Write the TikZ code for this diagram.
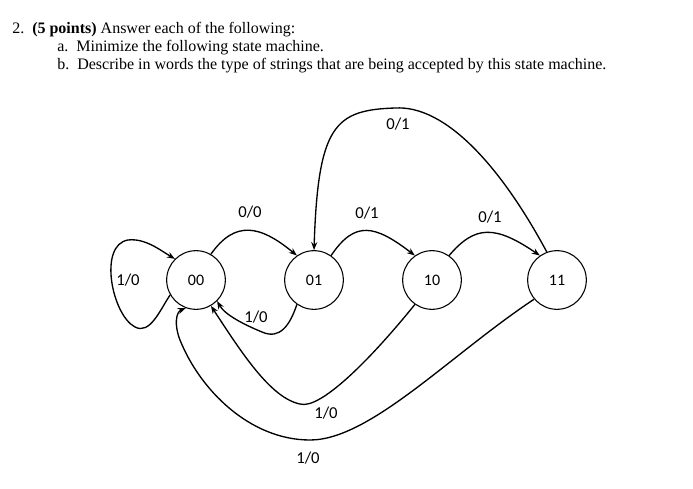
\documentclass[tikz,border=0pt]{standalone}
\usepackage{fontspec}
\setmainfont{Liberation Serif}
\newfontfamily\lab{Carlito}
\usetikzlibrary{arrows.meta}
\begin{document}
\begin{tikzpicture}[x=0.75pt,y=-0.75pt,
  st/.style={draw,circle,minimum size=44pt,inner sep=0pt,line width=0.8pt,font=\lab\fontsize{12}{14}\selectfont},
  lb/.style={font=\lab\fontsize{12.5}{14}\selectfont},
  tx/.style={anchor=base west,font=\fontsize{12}{14}\selectfont,inner sep=0pt},
  ed/.style={line width=1pt,-{Stealth[length=6pt,width=4.5pt]}}]
\useasboundingbox (0,0) rectangle (693,489);
\node[tx] (t1) at (12,33) {2.\enspace\textbf{(5 points)} Answer each of the following:};
\node[tx] (t2) at (57,51) {a.\enspace Minimize the following state machine.};
\node[tx] (t3) at (57,69) {b.\enspace Describe in words the type of strings that are being accepted by this state machine.};
\node[st] (a) at (196,280) {00};
\node[st] (b) at (314,280) {01};
\node[st] (c) at (432,280) {10};
\node[st] (d) at (557,280) {11};
\draw[ed] (a.210) .. controls (160,310) and (150,335) .. (135,327) .. controls (112,315) and (98,245) .. (128,240) .. controls (145,238) and (160,250) .. (a.135);
\node[lb] (l1) at (128,280) {1/0};
\draw[ed] (a.60) .. controls (235,220) and (260,225) .. (b.125);
\node[lb] (l2) at (250,212) {0/0};
\draw[ed] (b.235) .. controls (290,325) and (280,340) .. (262,332) .. controls (245,325) and (225,315) .. (a.-45);
\node[lb] (l3) at (256,317) {1/0};
\draw[ed] (b.55) .. controls (355,220) and (375,225) .. (c.125);
\node[lb] (l4) at (367,213) {0/1};
\draw[ed] (c.55) .. controls (475,225) and (495,225) .. (d.125);
\node[lb] (l5) at (490,217) {0/1};
\draw[ed] (d.110) .. controls (500,165) and (445,105) .. (395,108) .. controls (335,110) and (318,125) .. (b.north);
\node[lb] (l6) at (398,124) {0/1};
\draw[ed] (c.235) .. controls (370,360) and (320,410) .. (300,404) .. controls (270,398) and (240,350) .. (a.-60);
\node[lb] (l7) at (326,413) {1/0};
\draw[ed] (d.220) .. controls (450,355) and (370,440) .. (310,440) .. controls (250,440) and (200,390) .. (180,340) .. controls (174,325) and (176,312) .. (a.-110);
\node[lb] (l8) at (308,458) {1/0};
\end{tikzpicture}
\end{document}
